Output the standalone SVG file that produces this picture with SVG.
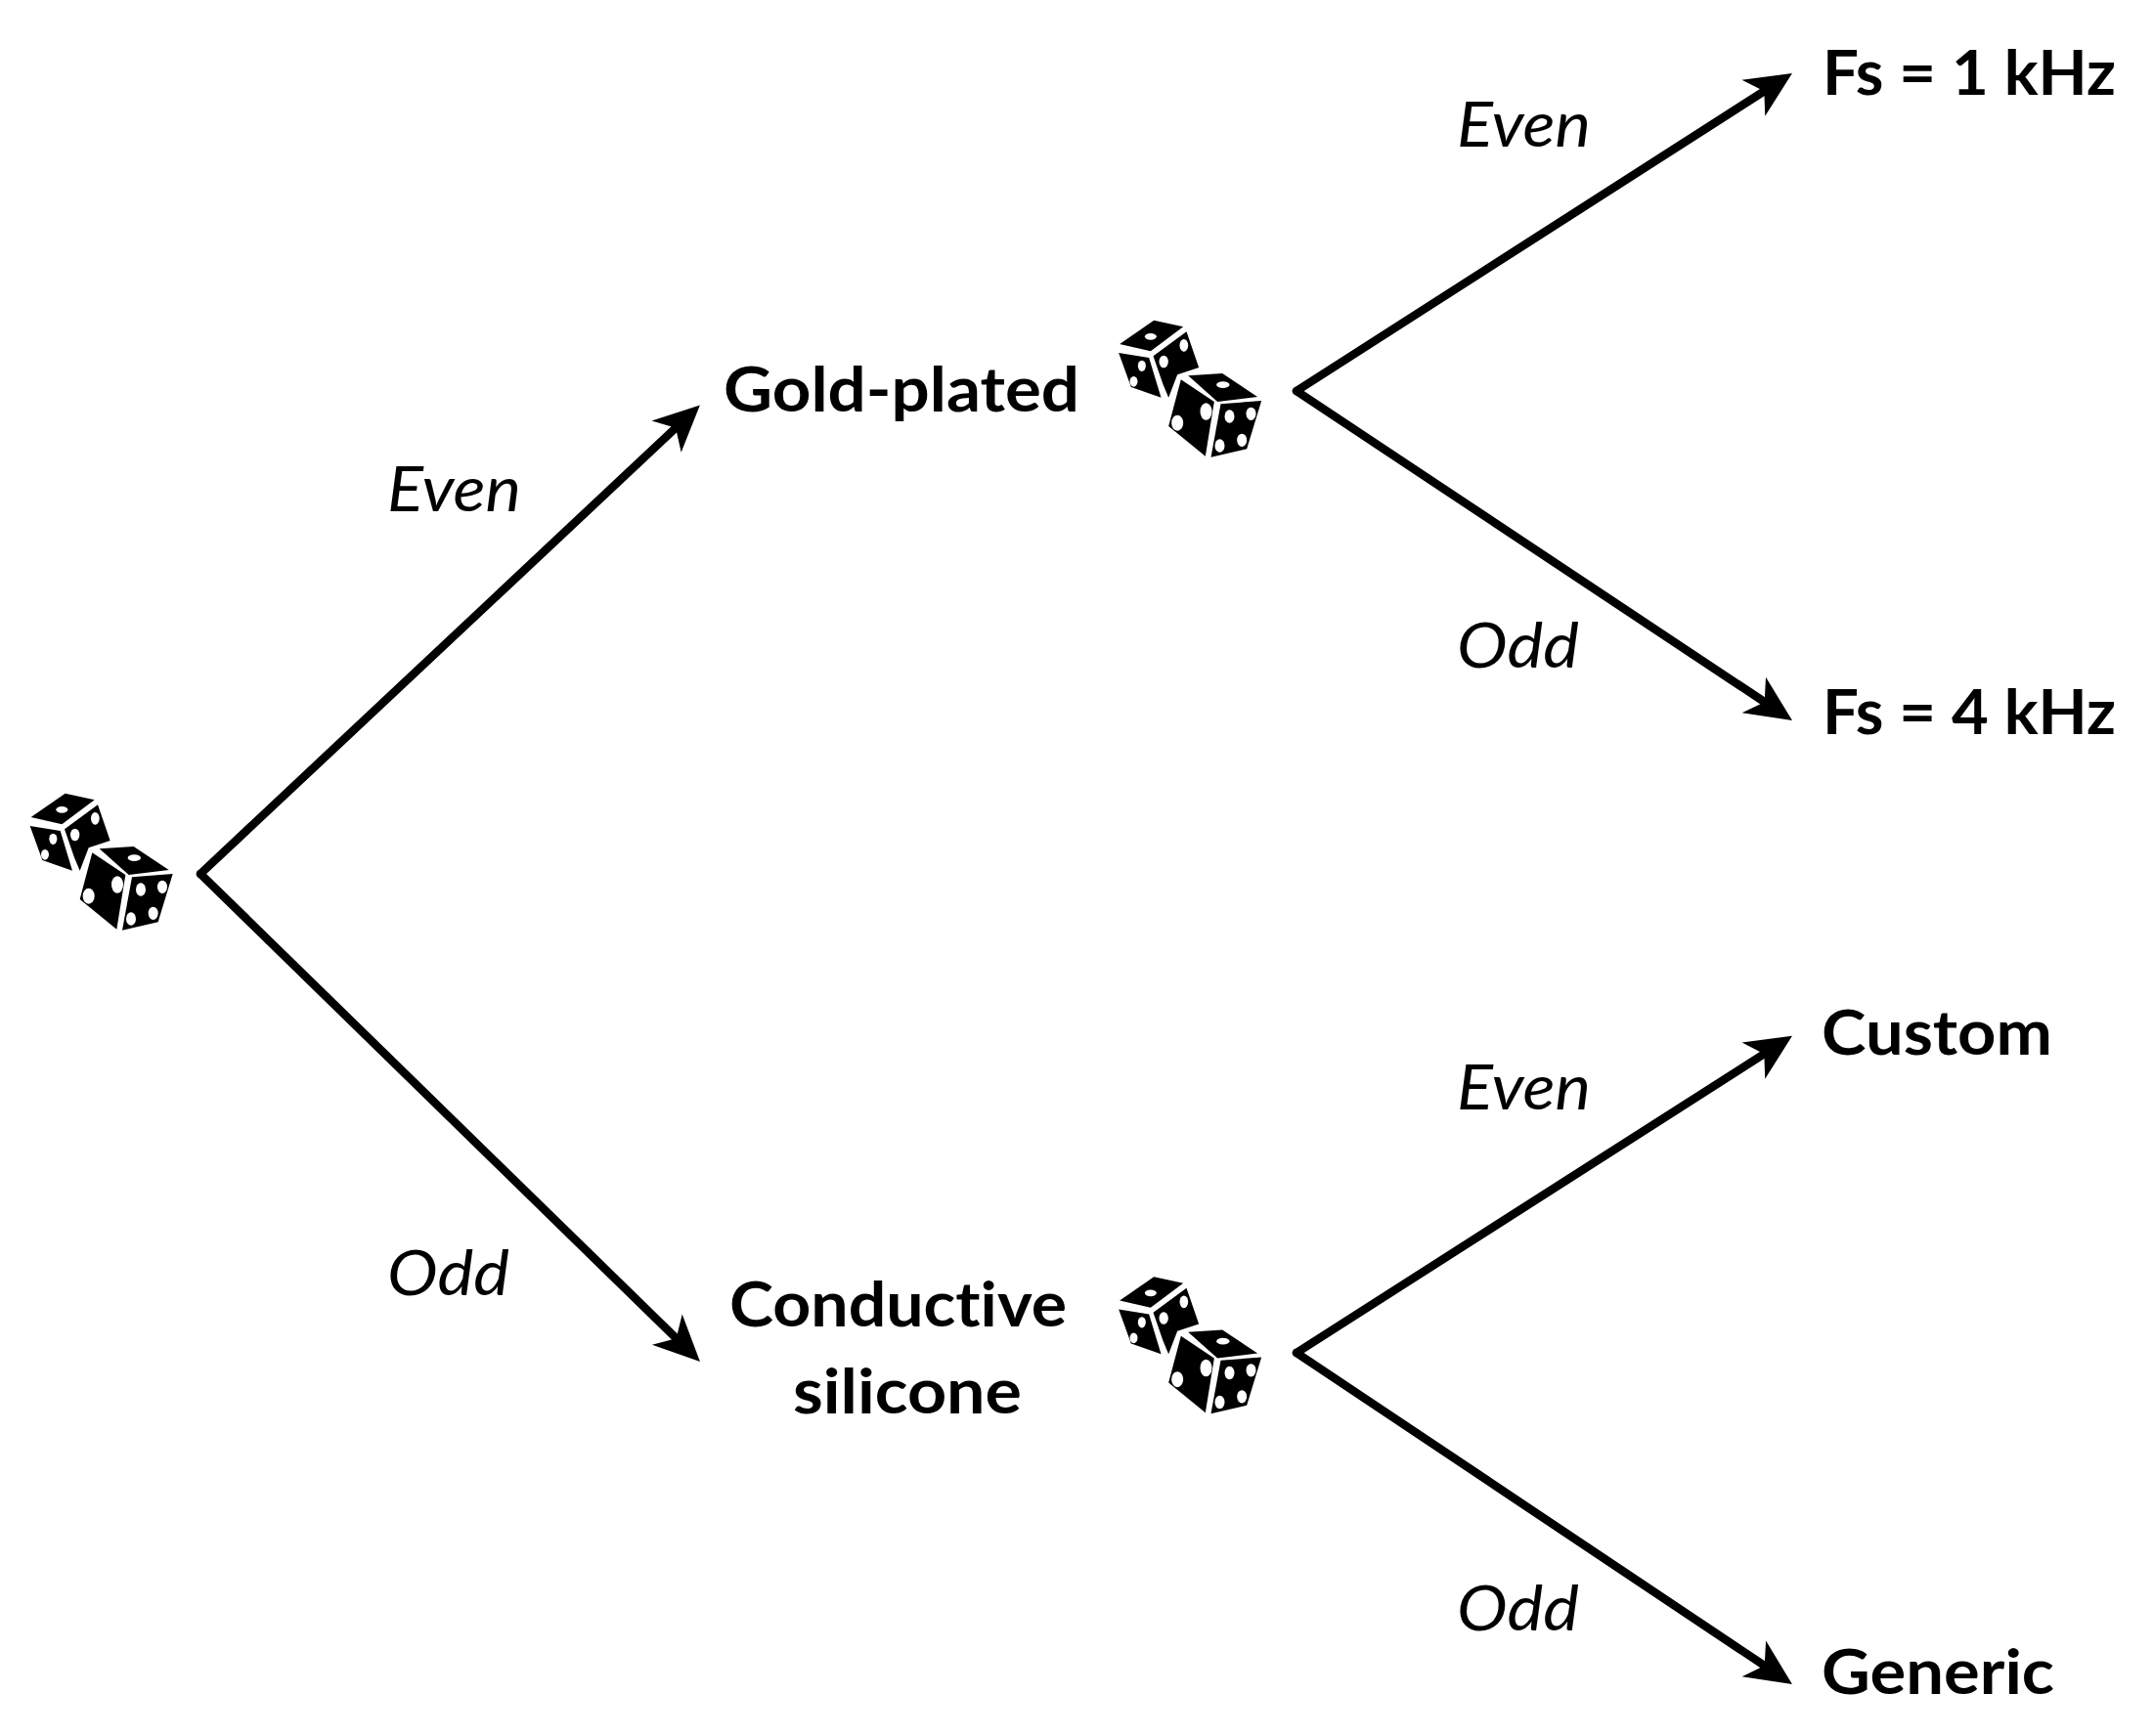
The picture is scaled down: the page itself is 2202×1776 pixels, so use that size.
<svg xmlns="http://www.w3.org/2000/svg" width="2202" height="1776" viewBox="0 0 2202 1776">
<style>
text{font-family:"Lato","Carlito","Liberation Sans",sans-serif;fill:#000;font-variant-ligatures:none;font-size:64px}
.n{font-weight:700}
.l{font-style:italic}
.c{fill:none;stroke:#000;stroke-width:8.5;stroke-linecap:round}
.s{fill:#fff}
</style>
<defs>
<marker id="ah" markerUnits="userSpaceOnUse" markerWidth="60" markerHeight="50" refX="15" refY="25" orient="auto" overflow="visible"><path d="M45,25 L-2,3 L11,25 L-2,47 Z" fill="#000"/></marker>
<g id="dice" transform="scale(.33333)">
<path d="M95,168 L200,95 L290,115 L190,190 Z"/>
<path d="M92,195 L185,210 L222,332 L130,300 Z"/>
<path d="M198,205 L300,130 L338,240 L272,262 L245,332 L228,292 Z"/>
<path d="M305,265 L410,258 L518,330 L395,345 Z"/>
<path d="M283,277 L385,345 L358,512 L245,420 Z"/>
<path d="M405,352 L530,342 L485,490 L375,515 Z"/>
<ellipse class="s" cx="190" cy="145" rx="18" ry="10"/>
<ellipse class="s" cx="292" cy="172" rx="13" ry="19"/>
<ellipse class="s" cx="230" cy="222" rx="14" ry="19"/>
<ellipse class="s" cx="163" cy="235" rx="12" ry="17"/>
<ellipse class="s" cx="138" cy="283" rx="12" ry="16"/>
<ellipse class="s" cx="412" cy="293" rx="20" ry="10"/>
<ellipse class="s" cx="360" cy="375" rx="18" ry="26"/>
<ellipse class="s" cx="272" cy="410" rx="18" ry="24"/>
<ellipse class="s" cx="432" cy="390" rx="15" ry="20"/>
<ellipse class="s" cx="498" cy="382" rx="15" ry="20"/>
<ellipse class="s" cx="402" cy="480" rx="15" ry="20"/>
<ellipse class="s" cx="470" cy="463" rx="15" ry="20"/>
</g>
</defs>
<rect width="2202" height="1776" fill="#fff"/>
<g id="connectors">
<path class="c" marker-end="url(#ah)" d="M205,894 L694,435"/>
<path class="c" marker-end="url(#ah)" d="M205,894 L694.5,1372"/>
<path class="c" marker-end="url(#ah)" d="M1326,400 L1807.7,91.1"/>
<path class="c" marker-end="url(#ah)" d="M1326,400 L1808,720.4"/>
<path class="c" marker-end="url(#ah)" d="M1326,1384 L1807.7,1076"/>
<path class="c" marker-end="url(#ah)" d="M1326,1384 L1808,1706.3"/>
<text class="l" x="396" y="523" textLength="137" lengthAdjust="spacingAndGlyphs">Even</text>
<text class="l" x="396" y="1325" textLength="125" lengthAdjust="spacingAndGlyphs">Odd</text>
<text class="l" x="1490" y="150" textLength="137" lengthAdjust="spacingAndGlyphs">Even</text>
<text class="l" x="1490" y="683" textLength="125" lengthAdjust="spacingAndGlyphs">Odd</text>
<text class="l" x="1490" y="1135" textLength="137" lengthAdjust="spacingAndGlyphs">Even</text>
<text class="l" x="1490" y="1668" textLength="125" lengthAdjust="spacingAndGlyphs">Odd</text>
</g>
<g id="dice-root"><use href="#dice" transform="translate(0,780)"/></g>
<g id="dice-gold"><use href="#dice" transform="translate(1113.5,296)"/></g>
<g id="dice-silicone"><use href="#dice" transform="translate(1113.5,1274.5)"/></g>
<g id="node-gold"><text class="n" x="740" y="421" textLength="364" lengthAdjust="spacingAndGlyphs">Gold-plated</text></g>
<g id="node-silicone"><text class="n" x="746" y="1357" textLength="345" lengthAdjust="spacingAndGlyphs">Conductive</text><text class="n" x="811" y="1446" textLength="234" lengthAdjust="spacingAndGlyphs">silicone</text></g>
<g id="node-1khz"><text class="n" x="1864" y="97" textLength="300" lengthAdjust="spacingAndGlyphs">Fs = 1 kHz</text></g>
<g id="node-4khz"><text class="n" x="1864" y="751" textLength="300" lengthAdjust="spacingAndGlyphs">Fs = 4 kHz</text></g>
<g id="node-custom"><text class="n" x="1863" y="1079" textLength="236" lengthAdjust="spacingAndGlyphs">Custom</text></g>
<g id="node-generic"><text class="n" x="1863" y="1733" textLength="238" lengthAdjust="spacingAndGlyphs">Generic</text></g>
</svg>
